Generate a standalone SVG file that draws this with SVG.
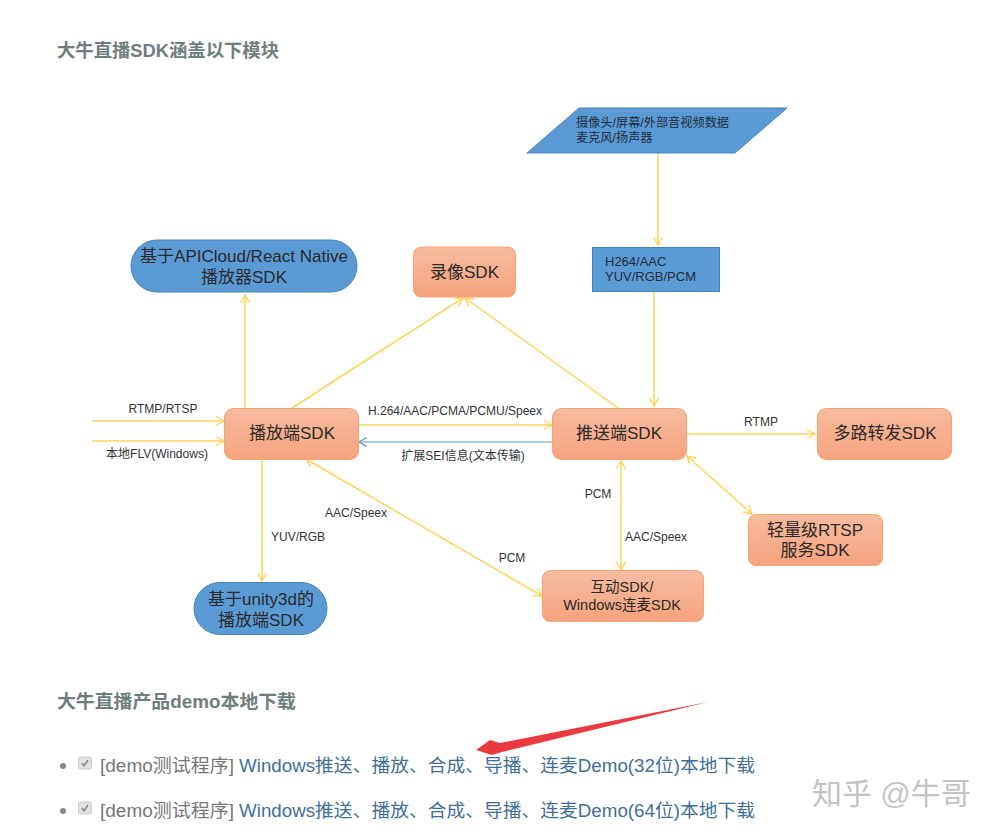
<svg xmlns="http://www.w3.org/2000/svg" width="994" height="834" viewBox="0 0 994 834">
<style>
text{font-family:"Liberation Sans","Noto Sans CJK SC",sans-serif;fill:#333}
.n{font-size:17px;text-anchor:middle;fill:#2a2a2a}
.l{font-size:12px;text-anchor:middle}
.o{fill:url(#og);stroke:#f2a678;stroke-width:1.2}
.b{fill:#5b9bd5;stroke:#4a82b5;stroke-width:1}
.c{fill:none;stroke:#fcd45a;stroke-width:1.5}
.h{font-size:18px;font-weight:bold;fill:#6f7d7d}
.li{font-size:18px;fill:#777}
.a{font-size:18px;fill:#3f6f96}
</style>
<defs>
<linearGradient id="og" x1="0" y1="0" x2="0" y2="1"><stop offset="0" stop-color="#f7bca0"/><stop offset="1" stop-color="#f5a27c"/></linearGradient>
<marker id="e" markerWidth="12" markerHeight="12" refX="9" refY="5" orient="auto-start-reverse" markerUnits="userSpaceOnUse"><path d="M1 0.5L9 5L1 9.5" fill="none" stroke="#fcd45a" stroke-width="1.4"/></marker>
<marker id="eb" markerWidth="12" markerHeight="12" refX="9" refY="5" orient="auto" markerUnits="userSpaceOnUse"><path d="M1 0.5L9 5L1 9.5" fill="none" stroke="#5b9bd5" stroke-width="1.4"/></marker>
</defs>
<rect width="994" height="834" fill="#fff"/>
<text class="h" x="57" y="57" textLength="222" lengthAdjust="spacingAndGlyphs">大牛直播SDK涵盖以下模块</text>
<g id="connectors">
<path class="c" marker-end="url(#e)" d="M658 153V245"/>
<path class="c" marker-end="url(#e)" d="M654 292V406"/>
<path class="c" marker-end="url(#e)" d="M245 408V295"/>
<path class="c" marker-end="url(#e)" d="M292 408L463 298"/>
<path class="c" marker-end="url(#e)" d="M618 408L465 298"/>
<path class="c" marker-end="url(#e)" d="M92 421H224"/>
<path class="c" marker-end="url(#e)" d="M92 441H224"/>
<path class="c" marker-end="url(#e)" d="M359 425H552"/>
<path d="M552 442H359" fill="none" stroke="#5b9bd5" stroke-width="1.2" marker-end="url(#eb)"/>
<path class="c" marker-end="url(#e)" d="M687 434H815"/>
<path class="c" marker-start="url(#e)" marker-end="url(#e)" d="M687 456L752 514"/>
<path class="c" marker-start="url(#e)" marker-end="url(#e)" d="M621 461V570"/>
<path class="c" marker-start="url(#e)" marker-end="url(#e)" d="M306 459L542 596"/>
<path class="c" marker-end="url(#e)" d="M262 460V581"/>
</g>
<g id="n-source"><polygon class="b" points="527,153 579,108 787,108 735,153"/><text font-size="12.2" style="fill:#1f2d3d"><tspan x="576" y="127">摄像头/屏幕/外部音视频数据</tspan><tspan x="576" y="142">麦克风/扬声器</tspan></text></g>
<g id="n-format"><rect class="b" x="592.500" y="247.500" width="127" height="44"/><text font-size="13" style="fill:#1f2d3d"><tspan x="605" y="266">H264/AAC</tspan><tspan x="605" y="281">YUV/RGB/PCM</tspan></text></g>
<g id="n-apicloud"><rect class="b" x="131" y="240" width="226" height="52" rx="26"/><text class="n"><tspan x="244" y="262">基于APICloud/React Native</tspan><tspan x="244" y="283">播放器SDK</tspan></text></g>
<g id="n-record"><rect class="o" x="413.500" y="247" width="102" height="50" rx="8"/><text class="n" x="464.500" y="278">录像SDK</text></g>
<g id="n-player"><rect class="o" x="224.500" y="408.500" width="134" height="51" rx="9"/><text class="n" x="292" y="439">播放端SDK</text></g>
<g id="n-push"><rect class="o" x="552.500" y="408.500" width="134" height="51" rx="9"/><text class="n" x="619" y="439">推送端SDK</text></g>
<g id="n-relay"><rect class="o" x="817.500" y="408.500" width="134" height="51" rx="9"/><text class="n" x="885" y="439">多路转发SDK</text></g>
<g id="n-rtsp"><rect class="o" x="748.500" y="514.500" width="134" height="51" rx="8"/><text class="n"><tspan x="815" y="536">轻量级RTSP</tspan><tspan x="815" y="556">服务SDK</tspan></text></g>
<g id="n-interact"><rect class="o" x="542.500" y="570.500" width="161" height="51" rx="8"/><text class="n" style="font-size:14.500px"><tspan x="622" y="592">互动SDK/</tspan><tspan x="622" y="610">Windows连麦SDK</tspan></text></g>
<g id="n-unity"><rect class="b" x="194" y="582.500" width="133" height="52" rx="26"/><text class="n"><tspan x="261" y="605">基于unity3d的</tspan><tspan x="261" y="626">播放端SDK</tspan></text></g>
<g id="labels">
<text class="l" x="163" y="413">RTMP/RTSP</text>
<text class="l" x="157" y="458">本地FLV(Windows)</text>
<text class="l" x="455" y="415">H.264/AAC/PCMA/PCMU/Speex</text>
<text class="l" x="463" y="460">扩展SEI信息(文本传输)</text>
<text class="l" x="761" y="426">RTMP</text>
<text class="l" x="598" y="498">PCM</text>
<text class="l" x="656" y="541">AAC/Speex</text>
<text class="l" x="356" y="517">AAC/Speex</text>
<text class="l" x="512" y="562">PCM</text>
<text class="l" x="298" y="541">YUV/RGB</text>
</g>
<text class="h" x="57" y="708" textLength="239" lengthAdjust="spacingAndGlyphs">大牛直播产品demo本地下载</text>
<circle cx="63" cy="766" r="3" fill="#888"/>
<circle cx="63" cy="811" r="3" fill="#888"/>
<g id="check1"><rect x="78.500" y="757" width="13" height="12" rx="2" fill="#e2e2e2" stroke="#ccc"/><path d="M82 763l2 3 4-6" fill="none" stroke="#888" stroke-width="1.5"/></g>
<g id="check2"><rect x="78.500" y="802" width="13" height="12" rx="2" fill="#e2e2e2" stroke="#ccc"/><path d="M82 808l2 3 4-6" fill="none" stroke="#888" stroke-width="1.5"/></g>
<text class="li" x="100" y="772" textLength="134" lengthAdjust="spacingAndGlyphs">[demo测试程序]</text>
<text class="a" x="239" y="772" textLength="516" lengthAdjust="spacingAndGlyphs">Windows推送、播放、合成、导播、连麦Demo(32位)本地下载</text>
<text class="li" x="100" y="817" textLength="134" lengthAdjust="spacingAndGlyphs">[demo测试程序]</text>
<text class="a" x="239" y="817" textLength="516" lengthAdjust="spacingAndGlyphs">Windows推送、播放、合成、导播、连麦Demo(64位)本地下载</text>
<path id="red-arrow" d="M708 702L500 743L490 740L476 750L492 755L502 752Z" fill="#ea3a40"/>
<text x="812" y="804" font-size="30" style="fill:#c4c4c4">知乎 @牛哥</text>
</svg>
